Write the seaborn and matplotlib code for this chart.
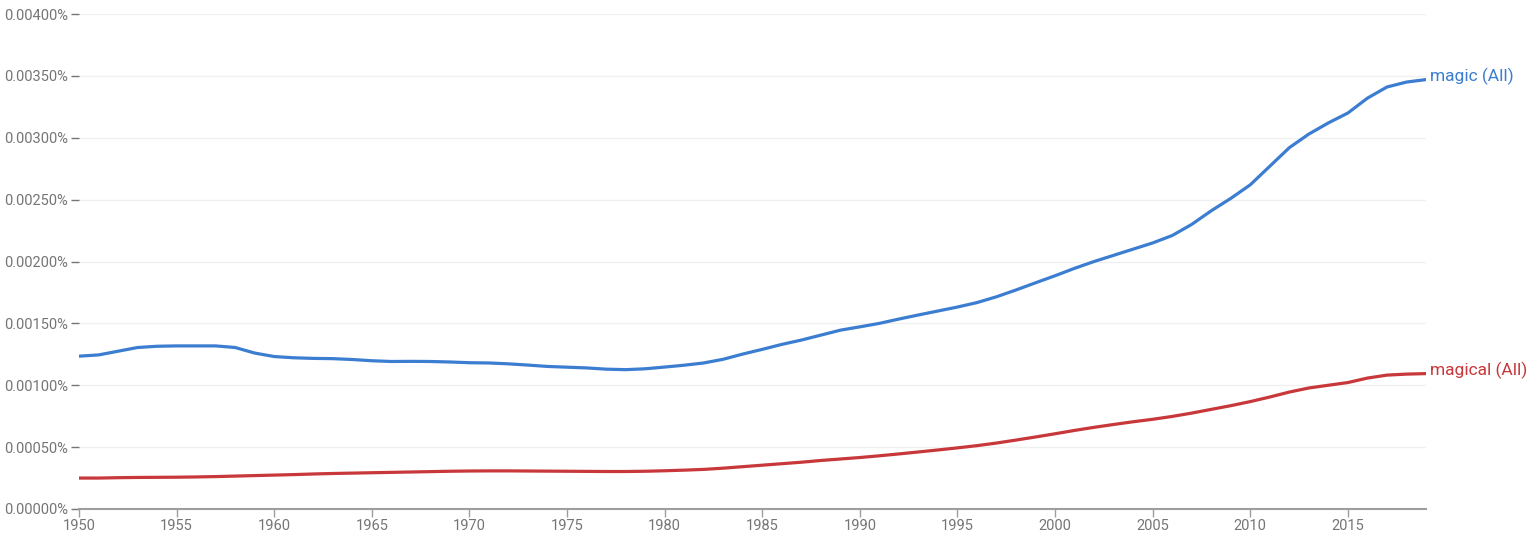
import pandas as pd
import matplotlib.pyplot as plt
import seaborn as sns
from matplotlib.ticker import FuncFormatter, MultipleLocator

# data (percent of all words)
years = list(range(1950, 2020))
magic = [0.001235, 0.001245, 0.001275, 0.001305, 0.001315, 0.001318, 0.001318, 0.001318, 0.001305, 0.001260,
         0.001232, 0.001222, 0.001217, 0.001215, 0.001208, 0.001198, 0.001192, 0.001193, 0.001192, 0.001188,
         0.001182, 0.001180, 0.001173, 0.001163, 0.001152, 0.001146, 0.001140, 0.001130, 0.001126, 0.001133,
         0.001147, 0.001162, 0.001180, 0.001210, 0.001252, 0.001290, 0.001330, 0.001365, 0.001405, 0.001445,
         0.001472, 0.001500, 0.001535, 0.001568, 0.001600, 0.001632, 0.001668, 0.001715, 0.001770, 0.001828,
         0.001885, 0.001945, 0.002000, 0.002050, 0.002100, 0.002150, 0.002210, 0.002300, 0.002410, 0.002510,
         0.002620, 0.002770, 0.002920, 0.003030, 0.003120, 0.003200, 0.003320, 0.003410, 0.003450, 0.003470]
magical = [0.000250, 0.000250, 0.000253, 0.000255, 0.000256, 0.000257, 0.000259, 0.000262, 0.000266, 0.000270,
           0.000274, 0.000278, 0.000283, 0.000287, 0.000290, 0.000293, 0.000296, 0.000299, 0.000302, 0.000305,
           0.000307, 0.000308, 0.000308, 0.000307, 0.000306, 0.000305, 0.000304, 0.000303, 0.000303, 0.000305,
           0.000309, 0.000314, 0.000320, 0.000330, 0.000342, 0.000354, 0.000366, 0.000378, 0.000392, 0.000404,
           0.000416, 0.000430, 0.000445, 0.000461, 0.000477, 0.000494, 0.000512, 0.000533, 0.000557, 0.000582,
           0.000608, 0.000635, 0.000660, 0.000683, 0.000705, 0.000725, 0.000748, 0.000775, 0.000805, 0.000835,
           0.000868, 0.000905, 0.000945, 0.000978, 0.001000, 0.001022, 0.001058, 0.001082, 0.001090, 0.001094]
labels = ['magic (All)', 'magical (All)']

df = pd.concat([
    pd.DataFrame({'year': years, 'value': magic, 'term': labels[0]}),
    pd.DataFrame({'year': years, 'value': magical, 'term': labels[1]}),
])

sns.set_theme(style='white')
plt.rcParams['font.family'] = ['Roboto', 'DejaVu Sans']

palette = {labels[0]: '#3b7dd0', labels[1]: '#c8373a'}

fig = plt.figure(figsize=(15.36, 5.41), dpi=100)
ax = fig.add_axes([79 / 1536, 1 - 509 / 541, (1426 - 79) / 1536, (509 - 14) / 541])

sns.lineplot(data=df, x='year', y='value', hue='term', palette=palette,
             linewidth=2.3, legend=False, ax=ax)

# end labels
for term, vals in [(labels[0], magic), (labels[1], magical)]:
    ax.text(years[-1] + 0.2, vals[-1] + 0.00003, term, color=palette[term], fontsize=12.5,
            va='center', ha='left', clip_on=False)

ax.set_xlim(1950, 2019)
ax.set_ylim(0, 0.004)
ax.xaxis.set_major_locator(MultipleLocator(5))
ax.yaxis.set_major_locator(MultipleLocator(0.0005))
ax.yaxis.set_major_formatter(FuncFormatter(lambda v, p: f'{v:.5f}%'))

ax.grid(axis='y', color='#f0f0f0', linewidth=1)
ax.grid(axis='x', visible=False)
ax.set_axisbelow(True)

for s in ['top', 'right', 'left']:
    ax.spines[s].set_visible(False)
ax.spines['bottom'].set_color('#9e9e9e')
ax.spines['bottom'].set_linewidth(1.5)

ax.tick_params(axis='y', left=True, length=6, width=1, color='#757575', pad=2,
               labelsize=10.5, labelcolor='#757575')
ax.tick_params(axis='x', bottom=True, length=6, width=1, color='#9e9e9e', pad=1,
               labelsize=10.5, labelcolor='#757575')
ax.set_xlabel('')
ax.set_ylabel('')

fig.savefig('out.png', dpi=100)
